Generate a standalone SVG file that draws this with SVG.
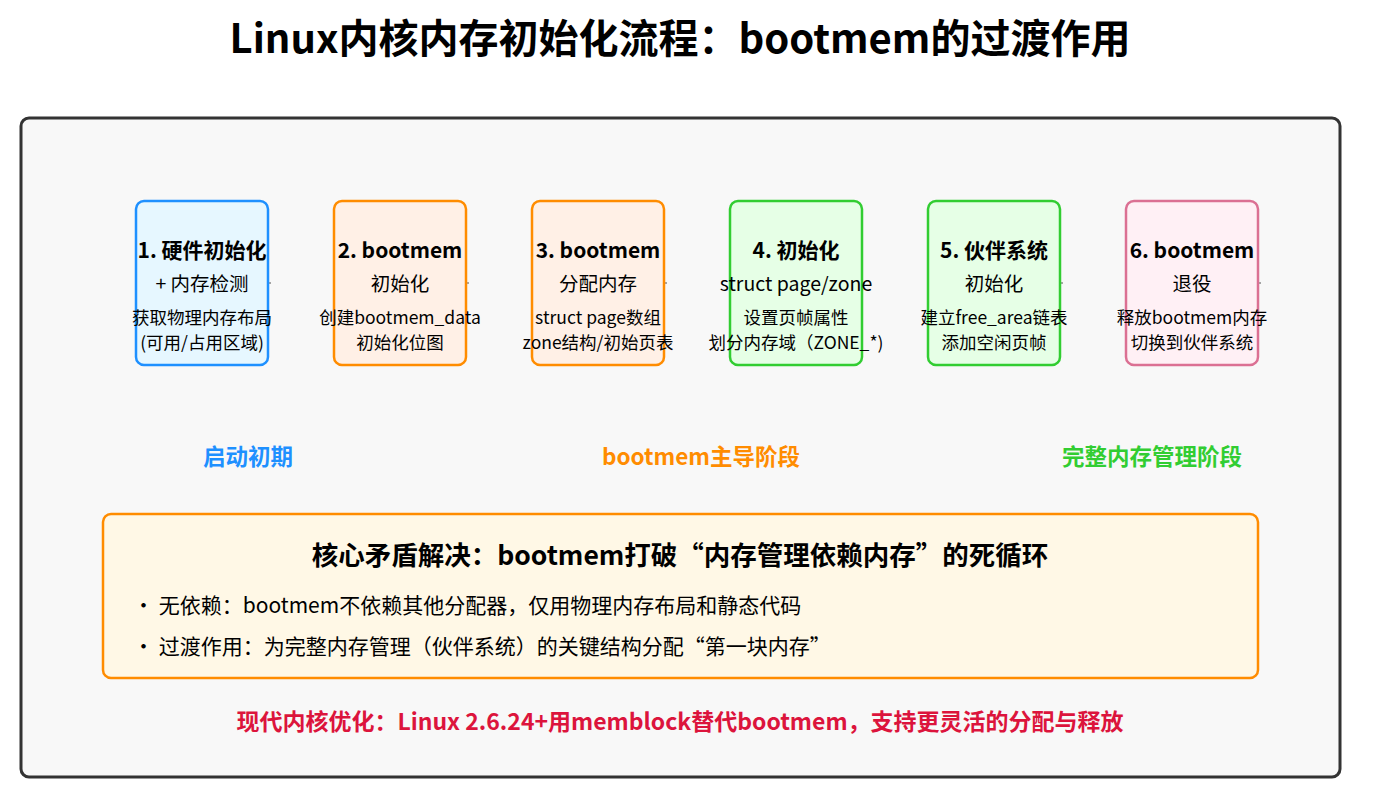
<svg xmlns="http://www.w3.org/2000/svg" width="1397" height="807" viewBox="0 0 1397 807">
<style>
text{font-family:"Noto Sans CJK SC","Noto Sans",sans-serif;text-anchor:middle;fill:#000}
.t{font-size:21px;font-weight:bold}
.s{font-size:19.5px}
.d{font-size:17.5px}
.box{stroke-width:2.5}
.b{fill:#e6f7ff;stroke:#1e90ff}.o{fill:#fff0e6;stroke:#ff8c00}.g{fill:#e6ffe6;stroke:#32cd32}.p{fill:#fff0f5;stroke:#db7093}
.ph{font-size:22.5px;font-weight:bold}
</style>
<rect width="1397" height="807" fill="#fff"/>
<text x="680" y="53" style="font-size:40px;font-weight:bold">Linux内核内存初始化流程：bootmem的过渡作用</text>
<rect x="21" y="118" width="1319" height="659" rx="8" fill="#f8f8f8" stroke="#333" stroke-width="3"/>
<g id="connectors" stroke="#888" stroke-width="1.5">
<line x1="268" y1="283" x2="271" y2="283"/><line x1="466" y1="283" x2="469" y2="283"/><line x1="664" y1="283" x2="667" y2="283"/><line x1="862" y1="283" x2="865" y2="283"/><line x1="1060" y1="283" x2="1063" y2="283"/><line x1="1258" y1="283" x2="1261" y2="283"/>
</g>
<g id="n1"><rect class="box b" x="136" y="201" width="132" height="164" rx="8"/><text class="t" x="202" y="258">1. 硬件初始化</text><text class="s" x="202" y="291">+ 内存检测</text><text class="d" x="202" y="324">获取物理内存布局</text><text class="d" x="202" y="349">(可用/占用区域)</text></g>
<g id="n2"><rect class="box o" x="334" y="201" width="132" height="164" rx="8"/><text class="t" x="400" y="258">2. bootmem</text><text class="s" x="400" y="291">初始化</text><text class="d" x="400" y="324">创建bootmem_data</text><text class="d" x="400" y="349">初始化位图</text></g>
<g id="n3"><rect class="box o" x="532" y="201" width="132" height="164" rx="8"/><text class="t" x="598" y="258">3. bootmem</text><text class="s" x="598" y="291">分配内存</text><text class="d" x="598" y="324">struct page数组</text><text class="d" x="598" y="349">zone结构/初始页表</text></g>
<g id="n4"><rect class="box g" x="730" y="201" width="132" height="164" rx="8"/><text class="t" x="796" y="258">4. 初始化</text><text class="s" x="796" y="291">struct page/zone</text><text class="d" x="796" y="324">设置页帧属性</text><text class="d" x="796" y="349">划分内存域（ZONE_*)</text></g>
<g id="n5"><rect class="box g" x="928" y="201" width="132" height="164" rx="8"/><text class="t" x="994" y="258">5. 伙伴系统</text><text class="s" x="994" y="291">初始化</text><text class="d" x="994" y="324">建立free_area链表</text><text class="d" x="994" y="349">添加空闲页帧</text></g>
<g id="n6"><rect class="box p" x="1126" y="201" width="132" height="164" rx="8"/><text class="t" x="1192" y="258">6. bootmem</text><text class="s" x="1192" y="291">退役</text><text class="d" x="1192" y="324">释放bootmem内存</text><text class="d" x="1192" y="349">切换到伙伴系统</text></g>
<text class="ph" x="248" y="465" style="fill:#1e90ff">启动初期</text>
<text class="ph" x="701" y="465" style="fill:#ff8c00">bootmem主导阶段</text>
<text class="ph" x="1152" y="465" style="fill:#32cd32">完整内存管理阶段</text>
<g id="core"><rect x="103" y="514" width="1155" height="164" rx="8" fill="#fff8e6" stroke="#ff8c00" stroke-width="2.5"/>
<text x="680" y="565" style="font-size:26.5px;font-weight:bold">核心矛盾解决：bootmem打破“内存管理依赖内存”的死循环</text>
<text x="133" y="613" style="font-size:21px;text-anchor:start">• 无依赖：bootmem不依赖其他分配器，仅用物理内存布局和静态代码</text>
<text x="133" y="654" style="font-size:21px;text-anchor:start">• 过渡作用：为完整内存管理（伙伴系统）的关键结构分配“第一块内存”</text></g>
<text x="680" y="730" style="font-size:23px;font-weight:bold;fill:#dc143c">现代内核优化：Linux 2.6.24+用memblock替代bootmem，支持更灵活的分配与释放</text>
</svg>
